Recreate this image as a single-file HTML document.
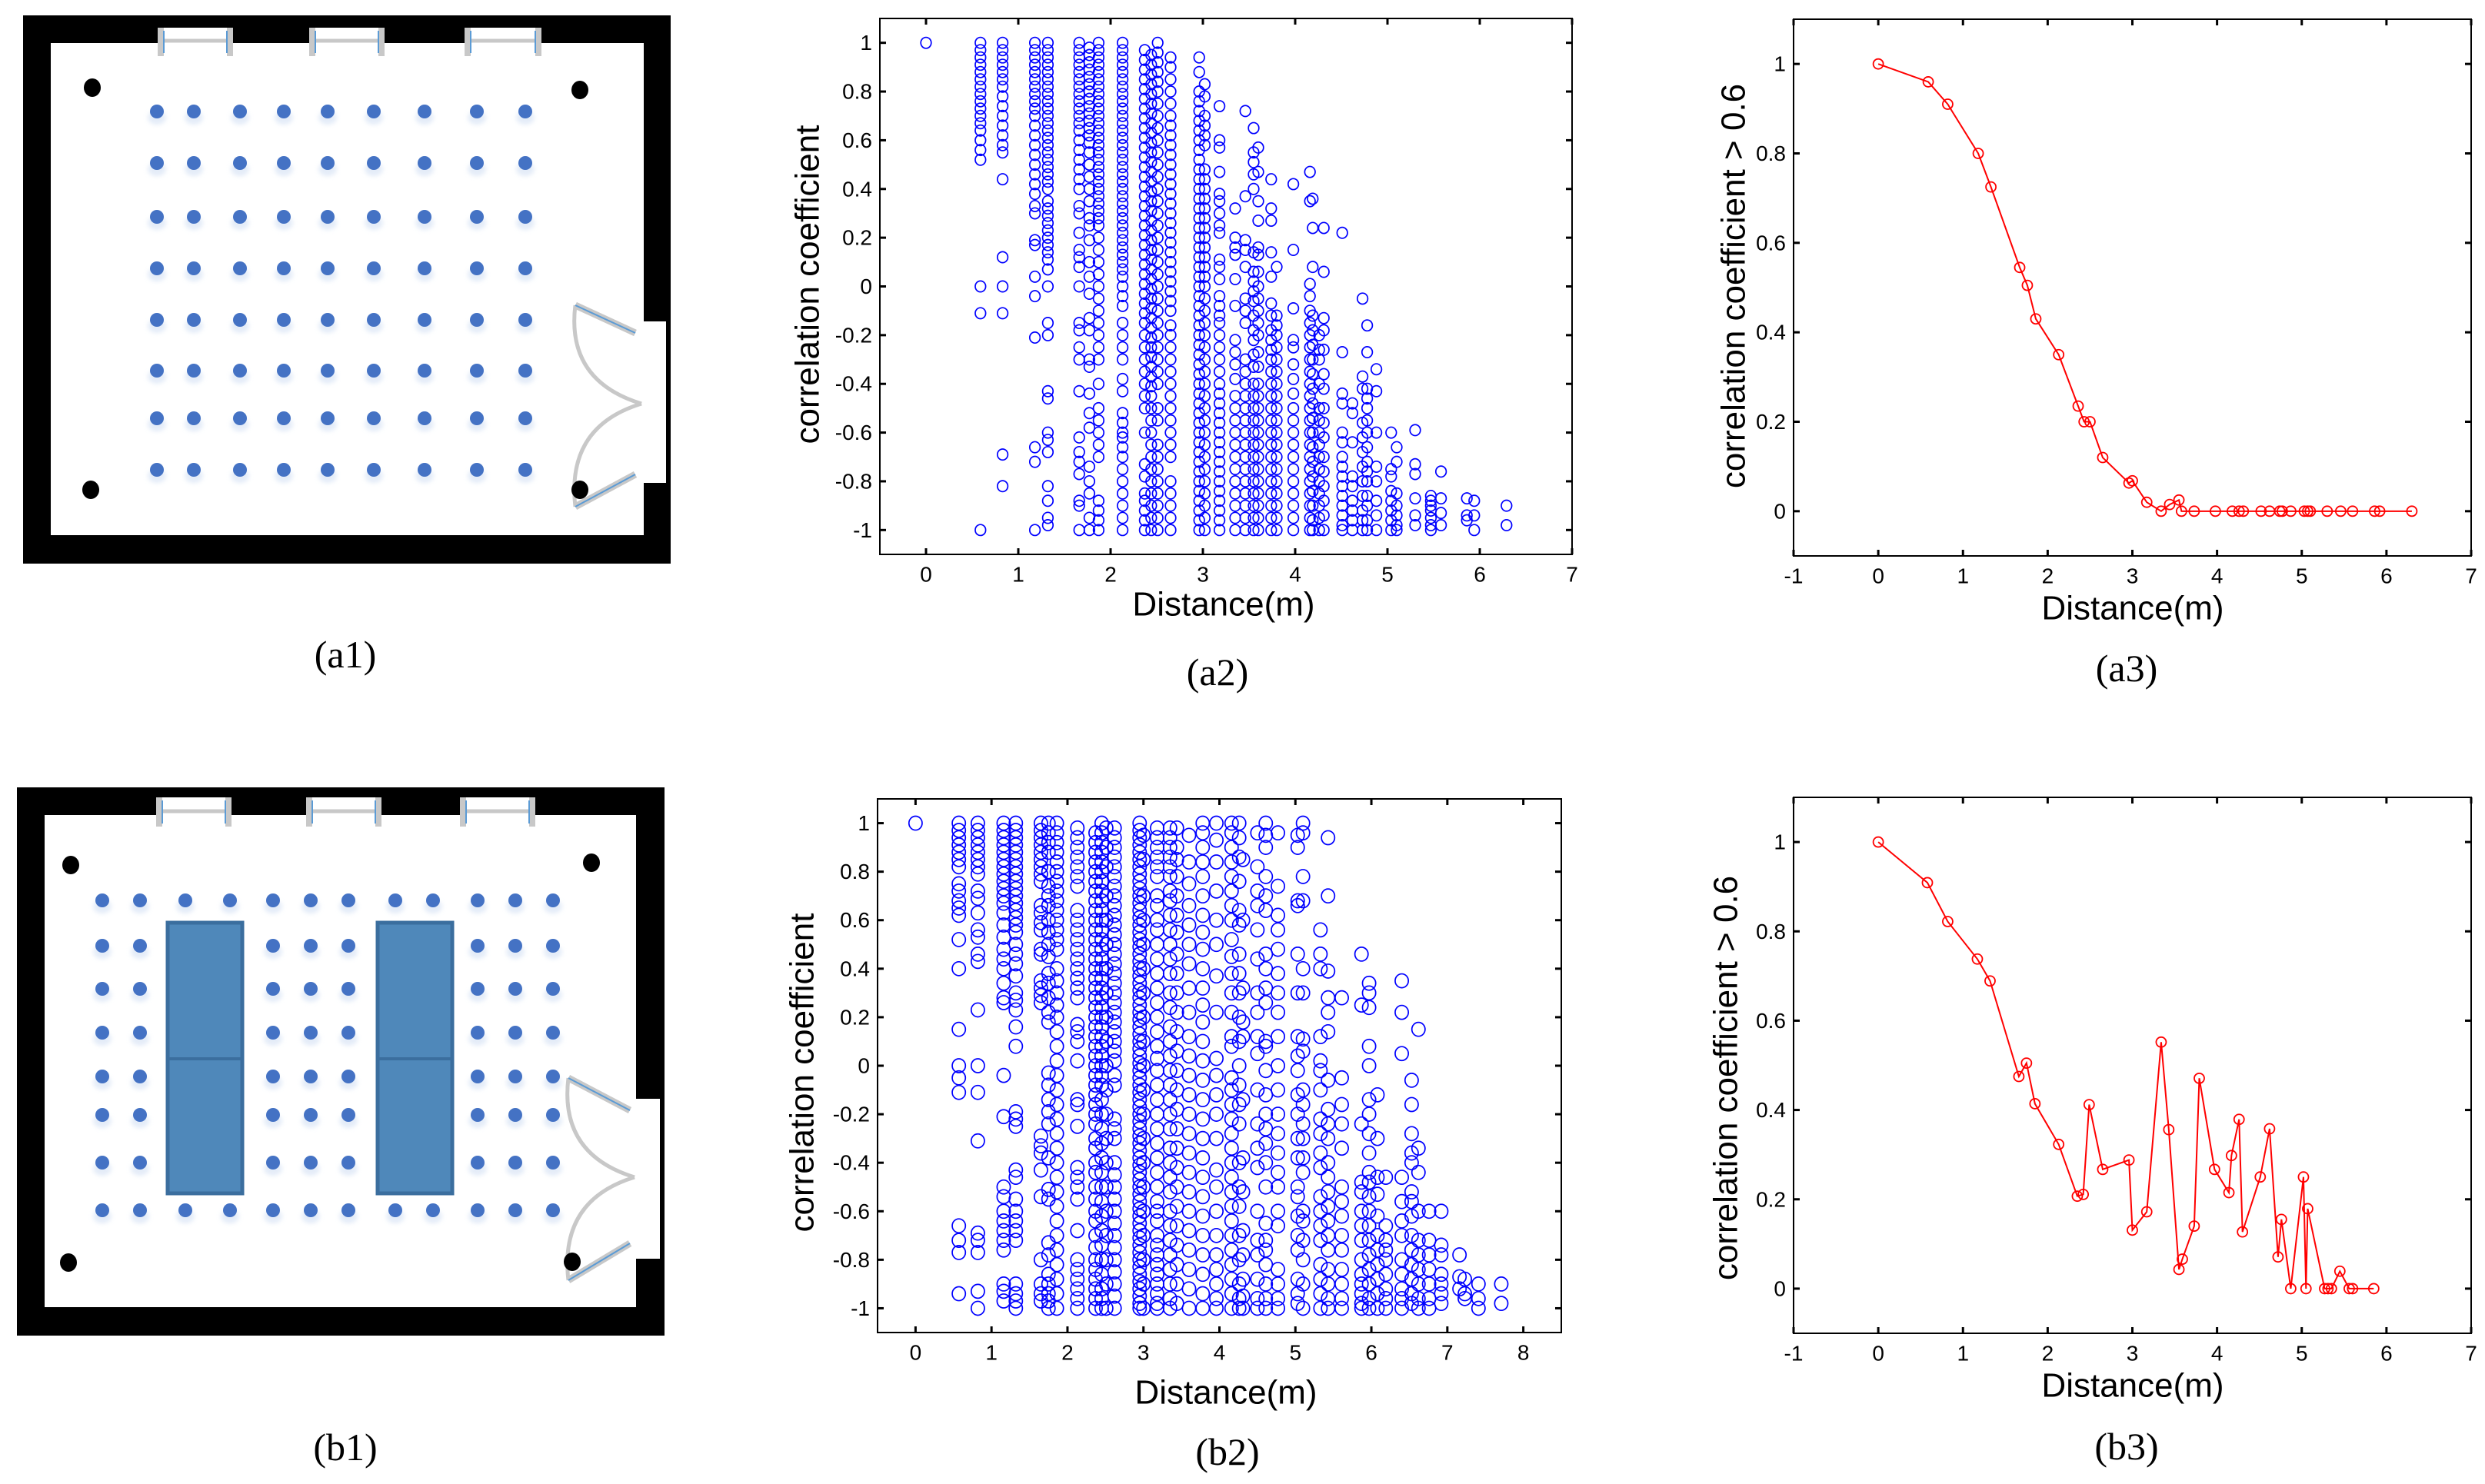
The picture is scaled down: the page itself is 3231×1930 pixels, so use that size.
<!DOCTYPE html>
<html><head><meta charset="utf-8"><style>
html,body{margin:0;padding:0;background:#fff;}
svg{display:block;}
text{font-family:"Liberation Sans",Arial,sans-serif;}
.cap{font-family:"Liberation Serif","Times New Roman",serif;font-size:50px;}
</style></head><body>
<svg id="fig" width="3231" height="1930" viewBox="0 0 3231 1930" xmlns="http://www.w3.org/2000/svg">
<defs>
<filter id="glow" x="-50%" y="-50%" width="200%" height="250%"><feGaussianBlur stdDeviation="3"/></filter>
</defs>
<g id="floorA"></g>
<g id="floorB"></g>
<g id="plots"></g>
<text class="cap" x="449" y="851" text-anchor="middle" dominant-baseline="central">(a1)</text>
<text class="cap" x="1583" y="874" text-anchor="middle" dominant-baseline="central">(a2)</text>
<text class="cap" x="2765" y="869" text-anchor="middle" dominant-baseline="central">(a3)</text>
<text class="cap" x="449" y="1882" text-anchor="middle" dominant-baseline="central">(b1)</text>
<text class="cap" x="1596" y="1888" text-anchor="middle" dominant-baseline="central">(b2)</text>
<text class="cap" x="2765" y="1881" text-anchor="middle" dominant-baseline="central">(b3)</text>
</svg>
<script>
// ---------- chart data ----------
const a2Dist = [0,0.59,0.83,1.18,1.32,1.66,1.77,1.87,2.13,2.37,2.44,2.51,2.65,2.96,3.02,3.18,3.35,3.46,3.55,3.6,3.74,3.8,3.98,4.16,4.19,4.26,4.31,4.51,4.62,4.73,4.78,4.88,5.04,5.1,5.3,5.47,5.58,5.86,5.94,6.29];
const a2Vals = [
"1",
"1 .97 .94 .91 .88 .85 .82 .79 .76 .73 .7 .67 .64 .6 .56 .52 0 -.11 -1",
"1 .97 .94 .91 .88 .85 .82 .78 .74 .7 .66 .62 .58 .55 .44 .12 0 -.11 -.69 -.82",
"1 .97 .94 .91 .88 .85 .82 .79 .76 .73 .7 .66 .62 .58 .54 .5 .46 .42 .38 .33 .3 .19 .17 .04 -.04 -.21 -.66 -.72 -1",
"1 .97 .94 .91 .88 .85 .82 .79 .76 .73 .7 .67 .64 .61 .58 .55 .52 .49 .46 .43 .4 .35 .32 .29 .26 .23 .2 .17 .14 .11 .07 0 -.15 -.2 -.43 -.46 -.6 -.63 -.68 -.82 -.88 -.95 -.98",
"1 .97 .94 .91 .88 .85 .82 .79 .76 .73 .7 .67 .64 .6 .56 .52 .48 .44 .4 .33 .3 .22 .15 .12 .08 0 -.15 -.18 -.25 -.3 -.43 -.62 -.68 -.72 -.77 -.88 -.9 -1",
".98 .95 .92 .89 .86 .83 .8 .77 .74 .71 .68 .65 .62 .59 .55 .5 .45 .4 .35 .28 .25 .19 .1 .04 -.03 -.13 -.18 -.3 -.33 -.44 -.52 -.58 -.74 -.8 -.85 -.95 -1",
"1 .97 .94 .91 .88 .85 .82 .79 .76 .73 .7 .67 .64 .61 .58 .55 .52 .49 .46 .43 .4 .37 .34 .31 .28 .25 .2 .15 .1 .05 0 -.05 -.1 -.15 -.2 -.25 -.3 -.4 -.5 -.55 -.6 -.65 -.7 -.88 -.92 -.96 -1",
"1 .97 .94 .91 .88 .85 .82 .79 .76 .73 .7 .67 .64 .61 .58 .55 .52 .49 .46 .43 .4 .37 .34 .31 .28 .25 .22 .19 .16 .13 .1 .07 .04 0 -.04 -.08 -.15 -.2 -.25 -.3 -.38 -.43 -.52 -.56 -.6 -.62 -.66 -.7 -.75 -.8 -.85 -.9 -.95 -1",
".97 .93 .89 .85 .81 .77 .73 .69 .65 .61 .57 .53 .49 .45 .41 .37 .33 .29 .25 .21 .17 .13 .09 .05 .01 -.03 -.07 -.11 -.15 -.2 -.25 -.3 -.35 -.4 -.45 -.5 -.6 -.73 -.78 -.85 -.88 -.92 -.96 -1",
".95 .91 .87 .83 .79 .75 .71 .67 .63 .59 .55 .51 .47 .43 .39 .35 .31 .27 .23 .19 .15 .11 .07 .03 -.01 -.05 -.09 -.13 -.17 -.21 -.25 -.29 -.33 -.37 -.41 -.45 -.5 -.55 -.6 -.65 -.7 -.75 -.8 -.85 -.9 -.95 -1",
"1 .96 .92 .88 .84 .8 .75 .7 .65 .6 .55 .5 .45 .4 .35 .3 .25 .2 .15 .1 .05 0 -.05 -.1 -.15 -.2 -.25 -.3 -.35 -.4 -.5 -.55 -.65 -.7 -.75 -.8 -.85 -.9 -.95 -1",
".94 .9 .85 .8 .75 .7 .66 .62 .58 .54 .5 .46 .42 .38 .34 .3 .26 .22 .18 .14 .1 .06 .02 -.02 -.06 -.1 -.16 -.2 -.25 -.3 -.35 -.4 -.45 -.5 -.55 -.6 -.65 -.7 -.8 -.85 -.9 -.95 -1",
".94 .88 .8 .76 .72 .68 .64 .6 .56 .52 .48 .44 .4 .36 .32 .28 .24 .2 .16 .12 .08 .04 0 -.04 -.08 -.12 -.16 -.2 -.24 -.28 -.32 -.36 -.4 -.44 -.48 -.52 -.56 -.6 -.64 -.68 -.72 -.76 -.8 -.84 -.88 -.92 -.96 -1",
".83 .78 .7 .66 .62 .58 .48 .44 .4 .36 .32 .28 .24 .2 .16 .12 .08 .04 0 -.05 -.1 -.15 -.2 -.25 -.3 -.35 -.4 -.45 -.5 -.55 -.6 -.65 -.7 -.75 -.8 -.85 -.9 -.95 -1",
".74 .6 .57 .47 .38 .35 .3 .25 .22 .11 .08 .03 -.04 -.08 -.12 -.15 -.2 -.25 -.3 -.35 -.4 -.44 -.48 -.52 -.56 -.6 -.64 -.68 -.72 -.76 -.8 -.84 -.88 -.92 -.96 -1",
".32 .2 .16 .13 .03 -.08 -.22 -.27 -.32 -.38 -.45 -.5 -.55 -.6 -.65 -.7 -.75 -.8 -.85 -.9 -.95 -1",
".72 .37 .19 .15 .08 -.05 -.1 -.15 -.3 -.35 -.4 -.45 -.5 -.55 -.6 -.65 -.7 -.75 -.8 -.85 -.9 -.95 -1",
".65 .55 .51 .46 .4 .14 .06 .02 -.02 -.06 -.12 -.18 -.22 -.28 -.33 -.4 -.45 -.5 -.55 -.6 -.65 -.7 -.75 -.8 -.85 -.9 -.95 -1",
".57 .47 .35 .27 .16 .13 .06 0 -.05 -.1 -.15 -.2 -.27 -.33 -.4 -.45 -.5 -.55 -.6 -.65 -.7 -.75 -.8 -.85 -.9 -.95 -1",
".44 .32 .27 .14 .04 -.07 -.12 -.18 -.22 -.26 -.3 -.35 -.4 -.45 -.5 -.55 -.6 -.65 -.7 -.75 -.8 -.85 -.9 -.95 -1",
".08 -.12 -.16 -.2 -.25 -.3 -.35 -.4 -.45 -.5 -.55 -.6 -.65 -.7 -.75 -.8 -.85 -.9 -.95 -1",
".42 .15 -.09 -.22 -.25 -.32 -.38 -.44 -.5 -.55 -.6 -.65 -.7 -.75 -.8 -.85 -.9 -.95 -1",
".47 .35 .01 -.04 -.1 -.15 -.2 -.25 -.3 -.35 -.4 -.45 -.5 -.55 -.6 -.65 -.7 -.75 -.8 -.85 -.9 -.95 -1",
".36 .24 .08 -.12 -.18 -.24 -.3 -.36 -.42 -.48 -.54 -.6 -.66 -.72 -.78 -.84 -.9 -.96 -1",
"-.2 -.26 -.3 -.4 -.5 -.55 -.6 -.65 -.7 -.75 -.8 -.85 -.9 -.95 -1",
".24 .06 -.13 -.18 -.26 -.36 -.42 -.5 -.56 -.62 -.7 -.76 -.82 -.88 -.94 -1",
".22 -.27 -.44 -.48 -.6 -.64 -.7 -.74 -.78 -.82 -.86 -.9 -.94 -.98 -1",
"-.48 -.52 -.64 -.78 -.82 -.88 -.92 -.96 -1",
"-.05 -.37 -.42 -.56 -.62 -.68 -.74 -.8 -.86 -.92 -.96 -1",
"-.16 -.27 -.42 -.46 -.5 -.55 -.6 -.66 -.72 -.76 -.8 -.86 -.9 -.96 -1",
"-.34 -.43 -.6 -.74 -.8 -.88 -.94 -1",
"-.6 -.75 -.78 -.84 -.88 -.92 -.96 -1",
"-.66 -.72 -.85 -.9 -.94 -.98 -1",
"-.59 -.73 -.77 -.87 -.94 -.98",
"-.86 -.88 -.9 -.92 -.95 -.98 -1",
"-.76 -.87 -.93 -.98",
"-.87 -.94 -.96",
"-.88 -.94 -1",
"-.9 -.98"];
const b2Dist = [0,0.57,0.82,1.16,1.32,1.65,1.75,1.86,2.13,2.37,2.45,2.51,2.62,2.95,3.0,3.18,3.35,3.44,3.6,3.78,3.96,4.16,4.26,4.31,4.5,4.61,4.77,5.03,5.1,5.33,5.43,5.61,5.87,5.97,6.08,6.19,6.4,6.53,6.62,6.76,6.92,7.16,7.23,7.41,7.71];
const b2Vals = [
"1",
"1 .97 .94 .91 .88 .85 .82 .75 .72 .68 .65 .62 .52 .4 .15 0 -.05 -.11 -.66 -.72 -.77 -.94",
"1 .97 .94 .91 .88 .85 .82 .79 .72 .69 .63 .56 .53 .46 .43 .23 0 -.11 -.31 -.69 -.72 -.77 -.93 -1",
"1 .97 .94 .91 .88 .85 .82 .79 .76 .73 .7 .67 .63 .58 .53 .48 .44 .4 .34 .28 .26 -.04 -.21 -.5 -.54 -.6 -.64 -.68 -.72 -.76 -.9 -.93 -.97",
"1 .97 .94 .91 .88 .85 .82 .79 .76 .73 .7 .67 .64 .61 .58 .55 .5 .46 .42 .37 .3 .27 .23 .16 .08 -.19 -.22 -.25 -.43 -.46 -.55 -.6 -.64 -.68 -.72 -.9 -.94 -.97 -1",
"1 .97 .94 .91 .88 .85 .82 .79 .76 .66 .63 .59 .56 .48 .46 .35 .32 .29 .26 -.29 -.33 -.36 -.43 -.54 -.8 -.9 -.94 -.97",
"1 .96 .92 .88 .8 .74 .7 .66 .6 .55 .5 .45 .38 .34 .28 .22 .18 -.03 -.08 -.14 -.19 -.24 -.38 -.51 -.55 -.73 -.78 -.86 -.9 -.94 -.97 -1",
"1 .96 .92 .88 .84 .8 .76 .72 .68 .64 .6 .56 .52 .48 .4 .35 .3 .25 .2 .14 .08 .02 -.04 -.1 -.16 -.22 -.28 -.34 -.4 -.46 -.52 -.58 -.64 -.7 -.76 -.82 -.88 -.94 -1",
".98 .94 .9 .86 .82 .78 .74 .64 .6 .56 .52 .48 .44 .4 .36 .32 .28 .17 .14 .1 .02 -.14 -.16 -.25 -.42 -.46 -.5 -.55 -.68 -.8 -.84 -.88 -.92 -.96 -1",
".96 .92 .88 .84 .8 .76 .72 .68 .64 .6 .56 .52 .48 .44 .4 .36 .32 .28 .24 .2 .16 .12 .08 .04 0 -.04 -.08 -.12 -.16 -.2 -.24 -.3 -.34 -.4 -.44 -.5 -.55 -.6 -.64 -.7 -.75 -.8 -.84 -.88 -.92 -.96 -1",
"1 .96 .92 .88 .84 .8 .76 .72 .68 .64 .6 .56 .52 .48 .44 .4 .36 .32 .28 .24 .2 .16 .12 .08 .04 0 -.04 -.08 -.14 -.2 -.26 -.32 -.38 -.44 -.5 -.56 -.62 -.68 -.74 -.8 -.86 -.92 -.96 -1",
".98 .9 .82 .7 .6 .5 .4 .3 .2 .1 0 -.1 -.2 -.3 -.4 -.5 -.6 -.7 -.8 -.9 -1",
".98 .94 .9 .86 .82 .78 .74 .7 .66 .62 .58 .54 .5 .46 .42 .38 .34 .3 .26 .22 .18 .14 .1 .06 .02 -.04 -.08 -.22 -.26 -.3 -.4 -.45 -.5 -.55 -.6 -.65 -.7 -.75 -.8 -.85 -.9 -.95 -1",
"1 .97 .94 .91 .88 .85 .82 .79 .76 .73 .7 .67 .64 .61 .58 .55 .52 .49 .46 .43 .4 .37 .34 .31 .28 .25 .22 .19 .16 .13 .1 .07 .04 .01 -.02 -.05 -.08 -.11 -.14 -.17 -.2 -.23 -.26 -.29 -.32 -.35 -.38 -.41 -.44 -.47 -.5 -.53 -.56 -.59 -.62 -.65 -.68 -.71 -.74 -.77 -.8 -.83 -.86 -.89 -.92 -.95 -.98 -1",
".95 .85 .7 .6 .5 .4 .3 .2 .1 0 -.1 -.2 -.3 -.4 -.5 -.6 -.7 -.8 -.9 -1",
".98 .94 .9 .86 .82 .78 .7 .66 .6 .56 .5 .44 .38 .32 .26 .2 .14 .08 .03 -.02 -.08 -.14 -.2 -.26 -.32 -.38 -.44 -.5 -.56 -.6 -.64 -.7 -.74 -.78 -.82 -.86 -.9 -.94 -.98 -1",
".98 .94 .9 .86 .82 .78 .72 .68 .62 .56 .5 .44 .38 .3 .24 .16 .1 .04 -.02 -.08 -.14 -.2 -.26 -.34 -.4 -.46 -.52 -.6 -.66 -.72 -.78 -.84 -.9 -.96 -1",
".98 .9 .85 .78 .7 .62 .55 .46 .38 .3 .22 .14 .06 -.02 -.1 -.18 -.26 -.34 -.42 -.5 -.58 -.66 -.74 -.82 -.9 -.98",
".95 .84 .75 .66 .58 .5 .42 .32 .22 .12 .04 -.04 -.12 -.2 -.28 -.36 -.44 -.52 -.6 -.68 -.76 -.84 -.92 -1",
"1 .96 .9 .84 .78 .7 .62 .55 .48 .4 .32 .25 .18 .1 .02 -.06 -.14 -.22 -.3 -.38 -.46 -.54 -.62 -.7 -.78 -.86 -.94 -1",
"1 .93 .84 .72 .6 .5 .37 .22 .03 -.04 -.12 -.2 -.3 -.43 -.5 -.6 -.7 -.78 -.84 -.9 -.96 -1",
"1 .96 .9 .84 .78 .72 .66 .6 .52 .45 .38 .3 .22 .12 .08 -.05 -.1 -.16 -.22 -.28 -.34 -.4 -.46 -.52 -.58 -.64 -.7 -.76 -.82 -.88 -.94 -1",
"1 .94 .86 .76 .64 .58 .46 .38 .3 .2 .1 0 -.08 -.16 -.24 -.4 -.5 -.58 -.7 -.8 -.9 -.96 -1",
".85 .6 .32 .18 .12 -.14 -.38 -.52 -.68 -.78 -.88 -.95 -1",
".96 .82 .72 .66 .56 .44 .3 .22 .12 .05 -.1 -.24 -.34 -.42 -.6 -.72 -.78 -.88 -.96 -1",
"1 .95 .9 .78 .7 .64 .46 .4 .32 .26 .1 .08 -.02 -.12 -.2 -.26 -.32 -.4 -.5 -.65 -.72 -.76 -.82 -.9 -.96 -1",
".96 .74 .62 .56 .48 .38 .3 .22 .12 0 -.1 -.2 -.28 -.36 -.44 -.5 -.6 -.66 -.84 -.9 -.96 -1",
".95 .9 .68 .66 .46 .3 .12 .04 -.02 -.12 -.2 -.3 -.38 -.5 -.54 -.62 -.7 -.76 -.88 -.94 -.98",
"1 .96 .78 .68 .4 .3 .11 .06 -.1 -.16 -.24 -.3 -.38 -.44 -.6 -.64 -.72 -.8 -.9 -1",
".56 .46 .4 .12 .02 -.02 -.1 -.22 -.28 -.36 -.42 -.54 -.6 -.66 -.72 -.82 -.88 -.94 -1",
".94 .7 .39 .28 .22 .14 -.06 -.18 -.24 -.3 -.4 -.46 -.52 -.58 -.64 -.7 -.76 -.84 -.9 -.96 -1",
".28 -.05 -.16 -.24 -.34 -.5 -.56 -.62 -.7 -.76 -.84 -.9 -.96 -1",
".46 .25 -.24 -.48 -.52 -.6 -.66 -.72 -.8 -.86 -.9 -.94 -.98 -1",
".34 .3 .24 .08 0 -.14 -.2 -.28 -.36 -.44 -.48 -.54 -.6 -.66 -.72 -.78 -.84 -.9 -.96 -1",
"-.12 -.3 -.46 -.53 -.62 -.7 -.76 -.82 -.88 -.94 -1",
"-.46 -.66 -.72 -.76 -.8 -.86 -.92 -.96 -1",
".35 .22 .05 -.46 -.56 -.64 -.7 -.8 -.86 -.92 -.96 -1",
"-.06 -.16 -.28 -.36 -.4 -.52 -.56 -.62 -.7 -.76 -.82 -.88 -.94 -.98",
".15 -.34 -.44 -.6 -.72 -.78 -.84 -.9 -.96 -1",
"-.6 -.72 -.78 -.84 -.9 -.96 -1",
"-.6 -.74 -.78 -.86 -.9 -.94 -.98",
"-.78 -.87 -.92",
"-.88 -.94 -.96",
"-.9 -.96 -1",
"-.9 -.98"];
const a3X = [0,0.59,0.82,1.18,1.33,1.67,1.76,1.86,2.13,2.36,2.43,2.5,2.65,2.96,3.0,3.17,3.34,3.44,3.55,3.58,3.73,3.98,4.18,4.26,4.31,4.52,4.62,4.74,4.77,4.87,5.03,5.07,5.1,5.3,5.46,5.6,5.86,5.92,6.3];
const a3Y = [1,0.96,0.91,0.80,0.725,0.545,0.505,0.43,0.35,0.235,0.2,0.2,0.12,0.063,0.068,0.02,0,0.015,0.025,0,0,0,0,0,0,0,0,0,0,0,0,0,0,0,0,0,0,0,0];
const b3X = [0,0.58,0.82,1.17,1.32,1.66,1.75,1.85,2.13,2.35,2.42,2.49,2.65,2.96,3.0,3.17,3.34,3.43,3.55,3.59,3.73,3.79,3.97,4.14,4.17,4.26,4.3,4.51,4.62,4.72,4.76,4.87,5.02,5.05,5.07,5.27,5.31,5.35,5.45,5.56,5.6,5.85];
const b3Y = [1,0.909,0.822,0.738,0.689,0.475,0.505,0.414,0.323,0.207,0.211,0.412,0.267,0.288,0.131,0.172,0.552,0.356,0.043,0.066,0.14,0.471,0.267,0.215,0.298,0.379,0.127,0.25,0.358,0.071,0.155,0,0.25,0,0.179,0,0,0,0.039,0,0,0];
const a2XTicks = [0,1,2,3,4,5,6,7];
const b2XTicks = [0,1,2,3,4,5,6,7,8];
const corrYTicks = [-1,-0.8,-0.6,-0.4,-0.2,0,0.2,0.4,0.6,0.8,1];
const ratioXTicks = [-1,0,1,2,3,4,5,6,7];
const ratioYTicks = [0,0.2,0.4,0.6,0.8,1];

const NS = 'http://www.w3.org/2000/svg';
function mk(tag, attrs, parent){const e=document.createElementNS(NS,tag);for(const k in attrs)e.setAttribute(k,attrs[k]);parent.appendChild(e);return e;}
function fmt(v){return (Math.round(v*10)/10).toString();}

function axes(id, c){
  const g = mk('g',{id:id},document.getElementById('plots'));
  
  
  const sx = v => c.L + (v-c.xmin)/(c.xmax-c.xmin)*(c.R-c.L);
  const sy = v => c.B - (v-c.ymin)/(c.ymax-c.ymin)*(c.B-c.T);
  const frame = mk('rect',{x:c.L,y:c.T,width:c.R-c.L,height:c.B-c.T,fill:'none',stroke:'#000','stroke-width':2},g);
  
  
  c.xticks.forEach(v=>{
    const x=sx(v);
    mk('line',{x1:x,y1:c.B,x2:x,y2:c.B-8,stroke:'#000','stroke-width':3},g);
    mk('line',{x1:x,y1:c.T,x2:x,y2:c.T+8,stroke:'#000','stroke-width':3},g);
    const t=mk('text',{x:x,y:c.B+26,'text-anchor':'middle','dominant-baseline':'central','font-size':28},g);
    t.textContent=fmt(v);
    
    
  });
  c.yticks.forEach(v=>{
    const y=sy(v);
    mk('line',{x1:c.L,y1:y,x2:c.L+8,y2:y,stroke:'#000','stroke-width':3},g);
    mk('line',{x1:c.R,y1:y,x2:c.R-8,y2:y,stroke:'#000','stroke-width':3},g);
    const t=mk('text',{x:c.L-10,y:y,'text-anchor':'end','dominant-baseline':'central','font-size':28},g);
    t.textContent=fmt(v);
    
    
  });
  const xl=mk('text',{x:c.xlx,y:c.xly,'text-anchor':'middle','dominant-baseline':'central','font-size':44},g);
  xl.textContent='Distance(m)';
  
  
  const yl=mk('text',{x:c.ylx,y:c.yly,'text-anchor':'middle','dominant-baseline':'central','font-size':44,transform:'rotate(-90 '+c.ylx+' '+c.yly+')'},g);
  yl.textContent=c.ylabel;
  
  
  return {g,sx,sy};
}

function scatter(id,c,dist,vals,r){
  const a=axes(id,c);
  const sg=mk('g',{},a.g);
  
  
  dist.forEach((d,i)=>{
    vals[i].trim().split(/\s+/).map(Number).forEach(v=>{
      const p=mk('ellipse',{cx:a.sx(d),cy:a.sy(v),rx:r,ry:r*1.05,fill:'none',stroke:'#0000ff','stroke-width':1.7},sg);
      
      
    });
  });
}
function lineplot(id,c,xs,ys){
  const a=axes(id,c);
  const pts=xs.map((x,i)=>a.sx(x)+','+a.sy(ys[i])).join(' ');
  const pl=mk('polyline',{points:pts,fill:'none',stroke:'#ff0000','stroke-width':2},a.g);
  
  
  xs.forEach((x,i)=>{
    const m=mk('circle',{cx:a.sx(x),cy:a.sy(ys[i]),r:6.5,fill:'none',stroke:'#ff0000','stroke-width':1.8},a.g);
    
    
  });
}

scatter('chart-a2',{L:1144,R:2044,T:24,B:721,xmin:-0.5,xmax:7,ymin:-1.1,ymax:1.1,xticks:a2XTicks,yticks:corrYTicks,xlx:1591,xly:786,ylx:1050,yly:370,ylabel:'correlation coefficient'},a2Dist,a2Vals,6.8);
scatter('chart-b2',{L:1141,R:2030,T:1039,B:1733,xmin:-0.5,xmax:8.5,ymin:-1.1,ymax:1.1,xticks:b2XTicks,yticks:corrYTicks,xlx:1594,xly:1811,ylx:1043,yly:1395,ylabel:'correlation coefficient'},b2Dist,b2Vals,8.6);
lineplot('chart-a3',{L:2332,R:3213,T:25,B:723,xmin:-1,xmax:7,ymin:-0.1,ymax:1.1,xticks:ratioXTicks,yticks:ratioYTicks,xlx:2773,xly:791,ylx:2254,yly:372,ylabel:'correlation coefficient > 0.6'},a3X,a3Y);
lineplot('chart-b3',{L:2332,R:3213,T:1037,B:1734,xmin:-1,xmax:7,ymin:-0.1,ymax:1.1,xticks:ratioXTicks,yticks:ratioYTicks,xlx:2773,xly:1802,ylx:2244,yly:1402,ylabel:'correlation coefficient > 0.6'},b3X,b3Y);

// ---------- floor plans ----------
function room(g,o){
  mk('rect',{x:o.ox0,y:o.oy0,width:o.ox1-o.ox0,height:o.oy1-o.oy0,fill:'#000'},g);
  mk('rect',{x:o.ix0,y:o.iy0,width:o.ix1-o.ix0,height:o.iy1-o.iy0,fill:'#fff'},g);
  o.win.forEach(w=>{
    const wg=mk('g',{},g);
    
    
    mk('rect',{x:w[0]+4,y:o.wy0,width:w[1]-w[0]-8,height:o.wy1-o.wy0,fill:'#fff'},wg);
    mk('rect',{x:w[0],y:o.wy0,width:8,height:o.wy1-o.wy0,fill:'#c8c8c8'},wg);
    mk('rect',{x:w[1]-8,y:o.wy0,width:8,height:o.wy1-o.wy0,fill:'#c8c8c8'},wg);
    mk('line',{x1:w[0]+4,y1:o.wy1-20,x2:w[1]-4,y2:o.wy1-20,stroke:'#c8c8c8','stroke-width':5},wg);
    mk('line',{x1:w[0]+8,y1:o.wy0+4,x2:w[0]+8,y2:o.wy1-4,stroke:'#5b9bd5','stroke-width':2},wg);
    mk('line',{x1:w[1]-8,y1:o.wy0+4,x2:w[1]-8,y2:o.wy1-4,stroke:'#5b9bd5','stroke-width':2},wg);
  });
  const d=o.door;
  const dg=mk('g',{},g);
  
  
  mk('rect',{x:o.ix1-2,y:d.y0,width:o.ox1-o.ix1-4,height:d.y1-d.y0,fill:'#fff'},dg);
  mk('path',{d:`M${d.t[0]},${d.t[1]} Q${d.t[0]-12},${d.c[1]-30} ${d.c[0]},${d.c[1]} M${d.b[0]},${d.b[1]} Q${d.b[0]-12},${d.c[1]+30} ${d.c[0]},${d.c[1]}`,fill:'none',stroke:'#c8c8c8','stroke-width':5},dg);
  mk('line',{x1:d.h0[0],y1:d.h0[1],x2:d.t[0],y2:d.t[1],stroke:'#c8c8c8','stroke-width':9},dg);
  mk('line',{x1:d.h0[0],y1:d.h0[1],x2:d.t[0],y2:d.t[1],stroke:'#5b9bd5','stroke-width':2},dg);
  mk('line',{x1:d.h1[0],y1:d.h1[1],x2:d.b[0],y2:d.b[1],stroke:'#c8c8c8','stroke-width':9},dg);
  mk('line',{x1:d.h1[0],y1:d.h1[1],x2:d.b[0],y2:d.b[1],stroke:'#5b9bd5','stroke-width':2},dg);
  mk('line',{x1:o.ox1-4,y1:d.y0,x2:o.ox1-4,y2:d.y1,stroke:'#000','stroke-width':3},dg);
  o.pil.forEach(p=>{
    const c=mk('ellipse',{cx:p[0],cy:p[1],rx:11,ry:12,fill:'#000'},g);
    
    
  });
}
function dot(g,x,y){
  mk('ellipse',{cx:x,cy:y+8,rx:12,ry:9,fill:'#c9d9f1',opacity:0.5,filter:'url(#glow)'},g);
  const c=mk('ellipse',{cx:x,cy:y,rx:9,ry:9,fill:'#4472c4'},g);
  
  
}
const gA=document.getElementById('floorA');
room(gA,{ox0:30,ox1:872,oy0:20,oy1:733,ix0:66,ix1:837,iy0:56,iy1:696,wy0:36,wy1:73,
  win:[[205,303],[402,500],[604,704]],
  door:{y0:418,y1:628,t:[748,397],b:[748,659],c:[834,525],h0:[826,433],h1:[826,617]},
  pil:[[120,114],[754,117],[118,637],[754,637]]});
[204,252,312,369,426,486,552,620,683].forEach(x=>[145,212,282,349,416,482,544,611].forEach(y=>dot(gA,x,y)));

const gB=document.getElementById('floorB');
room(gB,{ox0:22,ox1:864,oy0:1024,oy1:1737,ix0:58,ix1:827,iy0:1060,iy1:1700,wy0:1037,wy1:1075,
  win:[[203,301],[398,496],[598,696]],
  door:{y0:1429,y1:1637,t:[739,1402],b:[739,1665],c:[825,1531],h0:[819,1444],h1:[819,1617]},
  pil:[[92,1125],[769,1122],[89,1642],[744,1641]]});
[218,491].forEach(x=>{
  const t=mk('rect',{x:x,y:1200,width:97,height:352,fill:'#4f88ba',stroke:'#3b6e9e','stroke-width':5},gB);
  
  
  mk('line',{x1:x,y1:1377,x2:x+97,y2:1377,stroke:'#3b6e9e','stroke-width':4},gB);
});
const bCols=[133,182,241,299,355,404,453,514,563,621,670,719];
const bRows=[1171,1230,1286,1343,1400,1450,1512,1574];
bRows.forEach((y,ri)=>bCols.forEach((x,ci)=>{
  if((ri===0||ri===7)||[2,3,7,8].indexOf(ci)<0) dot(gB,x,y);
}));
</script>
</body></html>
